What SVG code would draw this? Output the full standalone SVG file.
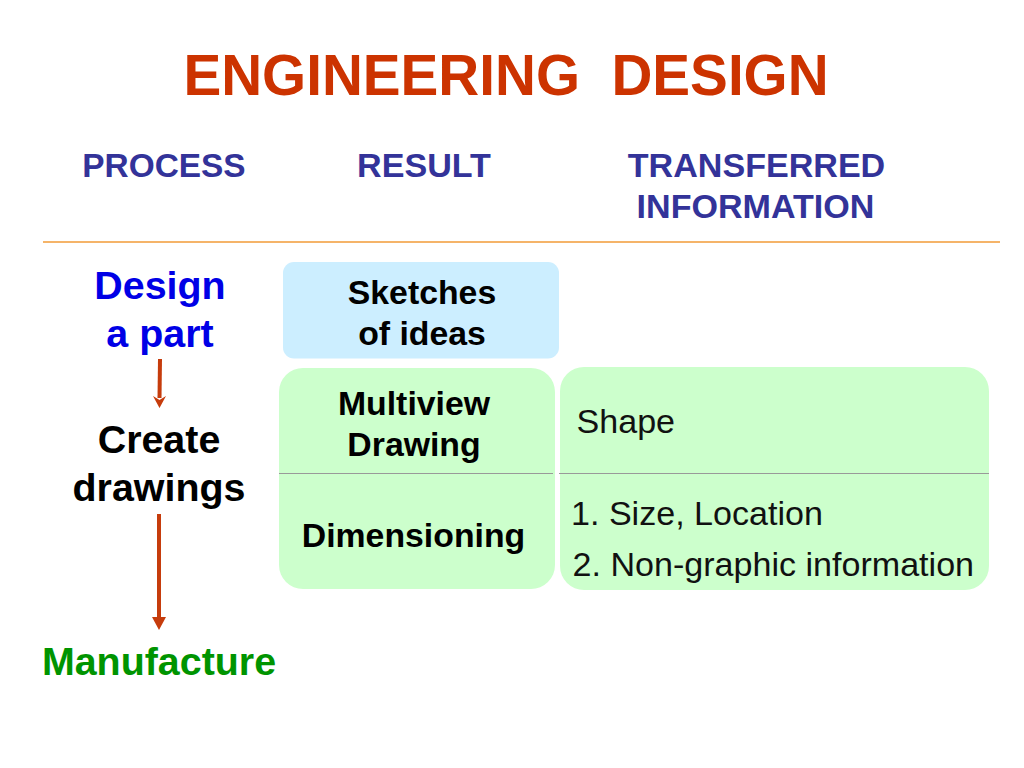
<svg xmlns="http://www.w3.org/2000/svg" width="1024" height="768" viewBox="0 0 1024 768">
<style>
text{font-family:"Liberation Sans",Arial,sans-serif;text-anchor:middle}
.h{font-size:33.400px;font-weight:bold;fill:#333399}
.w{font-size:34.100px}
.p{font-size:39.400px;font-weight:bold}
.r{font-size:33.800px;font-weight:bold;fill:#000}
.t{font-size:34.100px;fill:#111;text-anchor:start}
.g{fill:#ccffcc}
.d{stroke:#999;stroke-width:1;fill:none}
.a{stroke:#c63c0c;stroke-width:4;fill:none}
</style>
<defs>
<marker id="big" markerUnits="userSpaceOnUse" markerWidth="14" markerHeight="16" refX="0" refY="7" orient="auto"><path d="M0 0L13 7L0 14Z" fill="#c63c0c"/></marker>
</defs>
<rect width="1024" height="768" fill="#fff"/>
<text id="title" x="506" y="95" font-size="56.650" font-weight="bold" fill="#cc3300" xml:space="preserve">ENGINEERING  DESIGN</text>
<g id="headers">
<text class="h" x="164" y="176.500">PROCESS</text>
<text class="h w" x="424" y="176.500">RESULT</text>
<text class="h w" x="756.500" y="176.500">TRANSFERRED</text>
<text class="h w" x="755.500" y="217.500">INFORMATION</text>
<line x1="43" y1="242" x2="1000" y2="242" stroke="#f5b469" stroke-width="2"/>
</g>
<g id="design-a-part"><text class="p" fill="#0000e6" x="160" y="298.500">Design</text><text class="p" fill="#0000e6" x="160" y="346.500">a part</text></g>
<g id="create-drawings"><text class="p" fill="#000" x="159" y="453">Create</text><text class="p" fill="#000" x="159" y="501">drawings</text></g>
<g id="manufacture"><text class="p" fill="#009400" x="159" y="675">Manufacture</text></g>
<g id="sketches"><rect x="283" y="262" width="276" height="96.500" rx="11" fill="#cceeff"/><text class="r" x="422" y="304">Sketches</text><text class="r" x="422" y="345">of ideas</text></g>
<g id="result-box"><rect x="279" y="368" width="276" height="221" rx="24" class="g"/><line x1="279" y1="473.500" x2="553" y2="473.500" class="d"/><text class="r" x="414" y="415">Multiview</text><text class="r" x="414" y="456">Drawing</text><text class="r" x="413.500" y="547">Dimensioning</text></g>
<g id="info-box"><rect x="560" y="367" width="429" height="223" rx="24" class="g"/><line x1="559" y1="473.500" x2="989" y2="473.500" class="d"/><text class="t" x="576.500" y="433">Shape</text><text class="t" x="571" y="525">1. Size, Location</text><text class="t" x="572.500" y="576">2. Non-graphic information</text></g>
<g id="connectors">
<line class="a" x1="160" y1="359" x2="159.500" y2="398"/>
<path d="M153 396L159.500 400L166 396L159.500 408Z" fill="#c63c0c"/>
<line class="a" x1="159" y1="514" x2="159" y2="617" marker-end="url(#big)"/>
</g>
</svg>
